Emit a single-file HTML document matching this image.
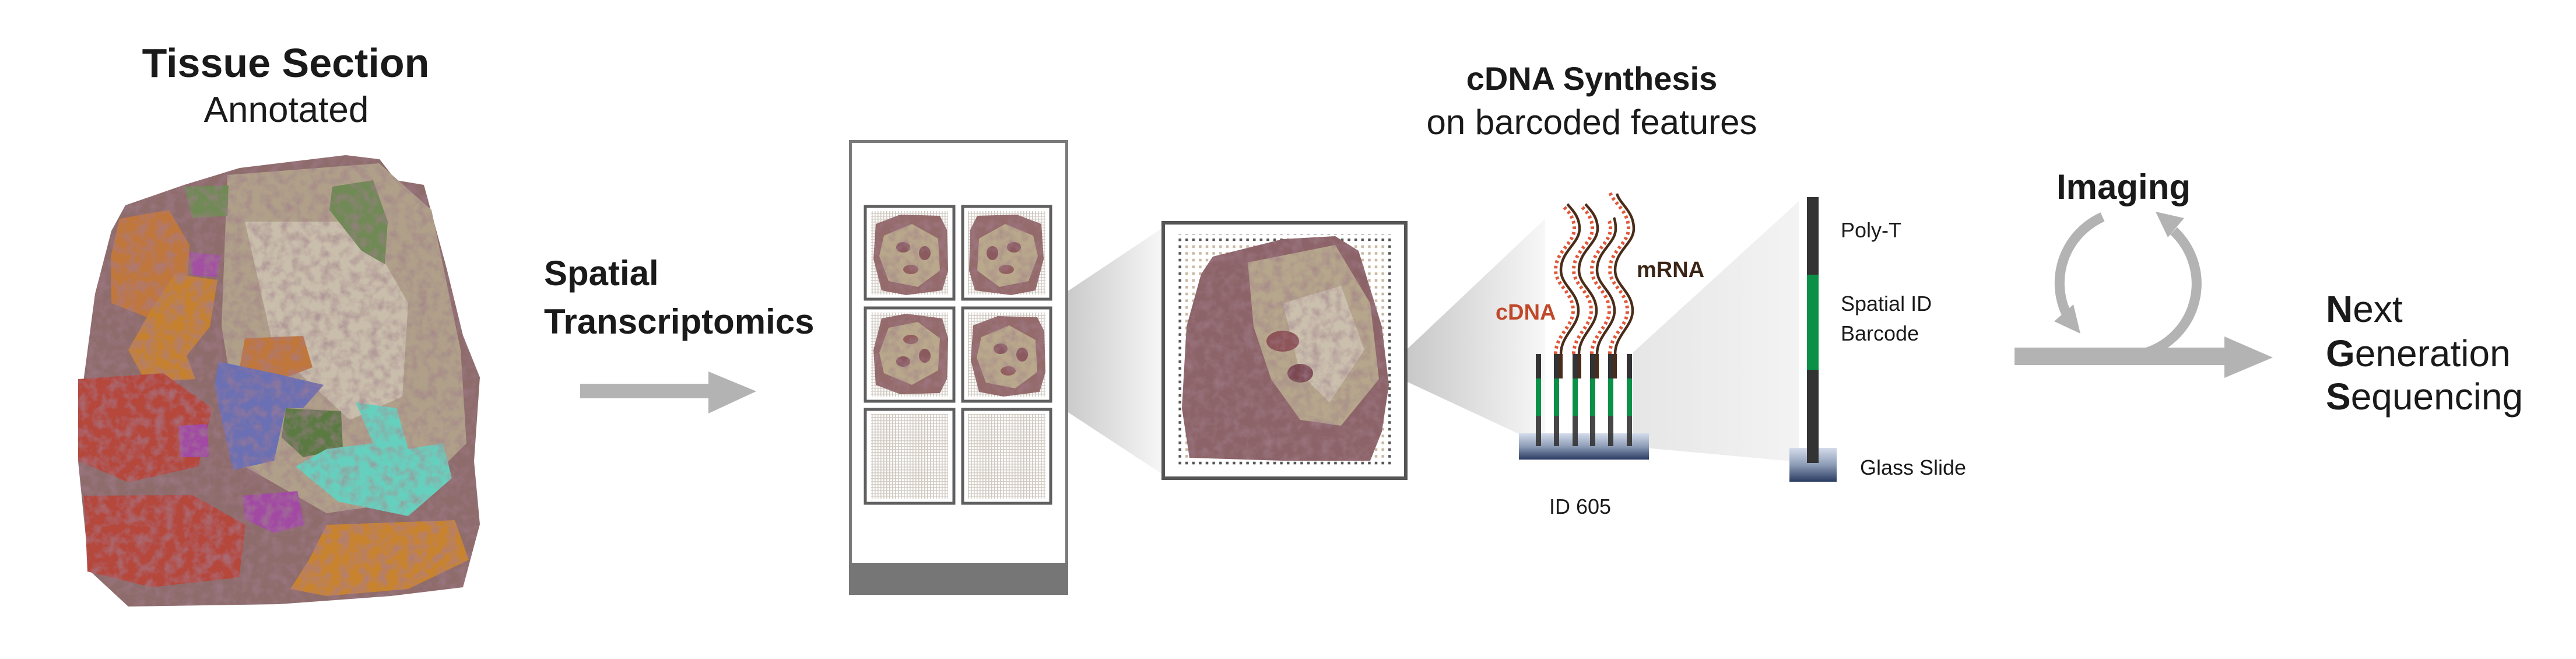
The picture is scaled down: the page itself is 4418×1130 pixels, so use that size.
<!DOCTYPE html>
<html><head><meta charset="utf-8"><style>
html,body{margin:0;padding:0;background:#fff}
svg{display:block}
text{font-family:"Liberation Sans",sans-serif;fill:#1a1a1a}
</style></head><body>
<svg width="4418" height="1130" viewBox="0 0 4418 1130" xmlns="http://www.w3.org/2000/svg">
<defs>
<linearGradient id="cone1" x1="0" y1="0" x2="1" y2="0"><stop offset="0" stop-color="#c4c4c4"/><stop offset="1" stop-color="#f6f6f6"/></linearGradient>
<linearGradient id="cone2" x1="0" y1="0" x2="1" y2="0"><stop offset="0" stop-color="#c8c8c8"/><stop offset="1" stop-color="#f7f7f7"/></linearGradient>
<linearGradient id="cone3" x1="0" y1="0" x2="1" y2="0"><stop offset="0" stop-color="#e6e6e6"/><stop offset="1" stop-color="#f3f3f3"/></linearGradient>
<linearGradient id="glass" x1="0" y1="0" x2="0" y2="1"><stop offset="0" stop-color="#d4dceb"/><stop offset="0.5" stop-color="#8d9cb6"/><stop offset="1" stop-color="#2a3b62"/></linearGradient>
<pattern id="dDark" width="11.6" height="11.6" patternUnits="userSpaceOnUse"><rect x="3" y="3" width="4.5" height="4.5" fill="#555"/></pattern>
<pattern id="dBeige" width="11.6" height="11.6" patternUnits="userSpaceOnUse"><rect x="3" y="3" width="4.5" height="4.5" fill="#c9b8a2"/></pattern>
<pattern id="grid" width="5" height="5" patternUnits="userSpaceOnUse"><rect width="5" height="5" fill="#fff"/><rect width="5" height="1.6" fill="#d6d0c8"/><rect width="1.6" height="5" fill="#cfc9c0"/></pattern>
<filter id="tex" x="0" y="0" width="100%" height="100%">
<feTurbulence type="fractalNoise" baseFrequency="0.06" numOctaves="3" seed="4" result="n"/>
<feColorMatrix in="n" type="matrix" values="0 0 0 0 0.35  0 0 0 0 0.2  0 0 0 0 0.25  0 0 0 1.4 -0.55" result="c"/>
<feComposite in="c" in2="SourceGraphic" operator="in" result="m"/>
<feMerge><feMergeNode in="SourceGraphic"/><feMergeNode in="m"/></feMerge>
</filter>
<g id="smallTissue">
<path d="M8,20 L50,4 L118,6 L130,30 L132,100 L122,134 L60,142 L18,134 L4,80 Z" fill="#946a6a"/>
<path d="M22,40 L70,20 L115,45 L118,100 L80,128 L30,118 L14,75 Z" fill="#b9a88c"/>
<ellipse cx="55" cy="60" rx="12" ry="9" fill="#8a5a5e"/><ellipse cx="92" cy="70" rx="10" ry="12" fill="#8a5a5e"/><ellipse cx="68" cy="98" rx="13" ry="8" fill="#93605f"/>
</g>
</defs>

<text x="490" y="132" font-size="70" font-weight="bold" text-anchor="middle">Tissue Section</text>
<text x="491" y="209" font-size="62" text-anchor="middle">Annotated</text>
<text x="933" y="489" font-size="60" font-weight="bold">Spatial</text>
<text x="933" y="572" font-size="60" font-weight="bold">Transcriptomics</text>
<text x="2730" y="154" font-size="56" font-weight="bold" text-anchor="middle">cDNA Synthesis</text>
<text x="2730" y="230" font-size="60" text-anchor="middle">on barcoded features</text>

<g filter="url(#tex)">
<path d="M215,352 L316,317 L411,288 L593,266 L651,273 L679,309 L727,317 L766,460 L794,575 L823,647 L813,791 L823,899 L794,1007 L670,1022 L478,1036 L220,1040 L153,978 L134,791 L144,647 L163,504 L191,396 Z" fill="#8e6c6c"/>
<path d="M390,300 L650,280 L740,360 L790,600 L800,760 L700,860 L560,880 L420,800 L380,560 Z" fill="#b0a08a"/>
<path d="M420,380 L620,380 L700,520 L690,680 L600,720 L470,600 Z" fill="#c9bdac"/>
<path d="M316,320 L392,318 L390,370 L330,374 Z" fill="#6f8a55"/>
<path d="M570,320 L640,309 L665,380 L660,453 L620,430 L565,360 Z" fill="#6f8a55"/>
<path d="M205,375 L290,360 L325,420 L320,500 L260,547 L191,520 L190,440 Z" fill="#c0773b"/>
<path d="M325,432 L378,438 L372,475 L330,472 Z" fill="#a34fa2"/>
<path d="M300,470 L373,480 L360,560 L320,610 L335,650 L250,655 L220,600 L260,530 Z" fill="#c5812f"/>
<path d="M420,580 L520,576 L536,630 L470,655 L411,630 Z" fill="#c0773b"/>
<path d="M375,620 L470,640 L555,660 L520,700 L490,700 L470,790 L400,806 L380,720 L368,660 Z" fill="#6a6fb3"/>
<path d="M490,700 L585,705 L588,770 L520,784 L483,750 Z" fill="#5a7a42"/>
<path d="M610,690 L680,700 L700,770 L760,760 L775,820 L700,885 L580,860 L507,800 L560,770 L640,760 Z" fill="#66d0bf"/>
<path d="M134,650 L280,640 L364,700 L340,800 L220,827 L134,790 Z" fill="#b5463a"/>
<path d="M306,730 L355,727 L359,784 L310,784 Z" fill="#a24aa4"/>
<path d="M144,850 L330,849 L421,900 L410,990 L260,1007 L150,980 Z" fill="#b5473b"/>
<path d="M416,850 L510,842 L522,900 L470,914 L420,890 Z" fill="#a24aa4"/>
<path d="M560,900 L780,892 L804,960 L700,1010 L560,1022 L498,1010 L530,960 Z" fill="#c7832e"/>
</g>

<rect x="995" y="658" width="222" height="25" fill="#b3b3b3"/>
<polygon points="1215,637 1297,671 1215,709" fill="#b3b3b3"/>

<polygon points="1806,516 1992,392 1992,812 1806,690" fill="url(#cone1)"/>
<polygon points="2414,598 2650,375 2650,765 2414,655" fill="url(#cone2)"/>
<polygon points="2800,605 3085,345 3085,792 2800,766" fill="url(#cone3)"/>

<rect x="1458.5" y="242.5" width="371" height="775" fill="#fff" stroke="#7a7a7a" stroke-width="5"/>
<rect x="1456" y="965" width="376" height="55" fill="#767676"/>
<g stroke="#5f5f5f" stroke-width="5" fill="#fff">
<rect x="1484" y="354" width="152" height="159"/><rect x="1651" y="354" width="151" height="159"/>
<rect x="1484" y="528" width="152" height="160"/><rect x="1651" y="528" width="151" height="160"/>
<rect x="1484" y="702" width="152" height="161"/><rect x="1651" y="702" width="151" height="161"/>
</g>
<g fill="url(#grid)">
<rect x="1494" y="362" width="132" height="143"/><rect x="1660" y="362" width="133" height="143"/>
<rect x="1494" y="536" width="132" height="144"/><rect x="1660" y="536" width="133" height="144"/>
<rect x="1494" y="710" width="132" height="145"/><rect x="1660" y="710" width="133" height="145"/>
</g>
<use href="#smallTissue" x="1494" y="364" filter="url(#tex)"/>
<use href="#smallTissue" transform="translate(1794,364) scale(-1,1)" filter="url(#tex)"/>
<use href="#smallTissue" transform="translate(1494,680) scale(1,-1)" filter="url(#tex)"/>
<use href="#smallTissue" x="1661" y="538" filter="url(#tex)"/>

<rect x="1995" y="382" width="416" height="438" fill="#fff" stroke="#555" stroke-width="6"/>
<rect x="2015" y="401" width="377" height="401" fill="url(#dDark)"/>
<rect x="2027" y="413" width="353" height="378" fill="#fff"/>
<rect x="2027" y="413" width="353" height="378" fill="url(#dBeige)"/>
<g filter="url(#tex)">
<path d="M2080,440 L2200,410 L2290,405 L2330,430 L2370,560 L2382,660 L2370,740 L2350,790 L2200,790 L2040,785 L2027,700 L2035,560 L2060,470 Z" fill="#8c6468"/>
<path d="M2140,450 L2290,420 L2350,520 L2365,650 L2300,730 L2230,720 L2180,650 L2150,560 Z" fill="#b6a68c"/>
<path d="M2200,520 L2300,490 L2340,600 L2280,690 L2230,640 Z" fill="#cbbfae"/>
<ellipse cx="2200" cy="585" rx="28" ry="18" fill="#8e5558"/>
<ellipse cx="2230" cy="640" rx="22" ry="16" fill="#7b4a52"/>
</g>

<rect x="2605" y="743" width="223" height="45" fill="url(#glass)"/>
<g>
<rect x="2634" y="607" width="9" height="42" fill="#333"/><rect x="2634" y="649" width="9" height="64" fill="#0a9147"/><rect x="2634" y="713" width="9" height="52" fill="#333" opacity="0.9"/>
<rect x="2665" y="607" width="9" height="42" fill="#333"/><rect x="2665" y="649" width="9" height="64" fill="#0a9147"/><rect x="2665" y="713" width="9" height="52" fill="#333" opacity="0.9"/>
<rect x="2697" y="607" width="9" height="42" fill="#333"/><rect x="2697" y="649" width="9" height="64" fill="#0a9147"/><rect x="2697" y="713" width="9" height="52" fill="#333" opacity="0.9"/>
<rect x="2727" y="607" width="9" height="42" fill="#333"/><rect x="2727" y="649" width="9" height="64" fill="#0a9147"/><rect x="2727" y="713" width="9" height="52" fill="#333" opacity="0.9"/>
<rect x="2758" y="607" width="9" height="42" fill="#333"/><rect x="2758" y="649" width="9" height="64" fill="#0a9147"/><rect x="2758" y="713" width="9" height="52" fill="#333" opacity="0.9"/>
<rect x="2790" y="607" width="9" height="42" fill="#333"/><rect x="2790" y="649" width="9" height="64" fill="#0a9147"/><rect x="2790" y="713" width="9" height="52" fill="#333" opacity="0.9"/>
<rect x="2674" y="607" width="6" height="42" fill="#4a2c1a"/><rect x="2706" y="607" width="6" height="42" fill="#4a2c1a"/><rect x="2736" y="607" width="6" height="42" fill="#4a2c1a"/><rect x="2767" y="607" width="6" height="42" fill="#4a2c1a"/>
</g>
<g fill="none">
<g id="str0">
<path d="M2677,607 C2677,575 2707,560 2707,533 C2707,500 2677,490 2677,463 C2677,430 2709,418 2709,392 C2709,372 2697,360 2688,350" stroke="#4a2c1a" stroke-width="4.5"/>
<path d="M2668,607 C2668,575 2698,560 2698,533 C2698,500 2668,490 2668,463 C2668,430 2700,418 2700,392 C2700,372 2688,360 2679,352" stroke="#e0583a" stroke-width="6" stroke-dasharray="4.5 5"/>
</g>
<use href="#str0" x="31"/>
<g transform="translate(62,0)">
<path d="M2677,607 C2677,575 2707,560 2707,533 C2707,500 2677,490 2677,463 C2677,430 2709,418 2709,392 C2709,385 2708,378 2706,373" stroke="#4a2c1a" stroke-width="4.5"/>
<path d="M2668,607 C2668,575 2698,560 2698,533 C2698,500 2668,490 2668,463 C2668,430 2700,418 2700,392 C2700,385 2699,380 2696,376" stroke="#e0583a" stroke-width="6" stroke-dasharray="4.5 5"/>
</g>
<g transform="translate(93,0)">
<path d="M2677,607 C2677,575 2707,560 2707,533 C2707,500 2677,490 2677,463 C2677,430 2709,418 2709,392 C2709,362 2685,350 2680,332" stroke="#4a2c1a" stroke-width="4.5"/>
<path d="M2668,607 C2668,575 2698,560 2698,533 C2698,500 2668,490 2668,463 C2668,430 2700,418 2700,392 C2700,362 2676,350 2668,330" stroke="#e0583a" stroke-width="6" stroke-dasharray="4.5 5"/>
</g>
</g>
<text x="2565" y="548" font-size="38" font-weight="bold" style="fill:#c0482a">cDNA</text>
<text x="2807" y="475" font-size="38" font-weight="bold" style="fill:#3a2516">mRNA</text>
<text x="2710" y="881" font-size="36" text-anchor="middle">ID 605</text>

<rect x="3069" y="768" width="81" height="58" fill="url(#glass)"/>
<rect x="3099" y="338" width="20" height="133" fill="#333"/>
<rect x="3099" y="471" width="20" height="163" fill="#0a9147"/>
<rect x="3099" y="634" width="20" height="160" fill="#333"/>
<text x="3157" y="407" font-size="36">Poly-T</text>
<text x="3157" y="533" font-size="36">Spatial ID</text>
<text x="3157" y="584" font-size="36">Barcode</text>
<text x="3190" y="814" font-size="36">Glass Slide</text>

<text x="3527" y="341" font-size="60" font-weight="bold">Imaging</text>
<g fill="none" stroke="#b3b3b3" stroke-width="17">
<path d="M3606,372 A124,124 0 0 0 3545,540"/>
<path d="M3683,604 A124,124 0 0 0 3728,396"/>
</g>
<polygon points="3523,551 3568,572 3556,522" fill="#b3b3b3"/>
<polygon points="3697,363 3718,407 3746,374" fill="#b3b3b3"/>
<rect x="3455" y="596" width="362" height="30" fill="#b3b3b3"/>
<polygon points="3815,577 3898,613 3815,648" fill="#b3b3b3"/>

<text x="3989" y="552" font-size="64"><tspan font-weight="bold">N</tspan>ext</text>
<text x="3989" y="628" font-size="64"><tspan font-weight="bold">G</tspan>eneration</text>
<text x="3989" y="702" font-size="64"><tspan font-weight="bold">S</tspan>equencing</text>
</svg>
</body></html>
